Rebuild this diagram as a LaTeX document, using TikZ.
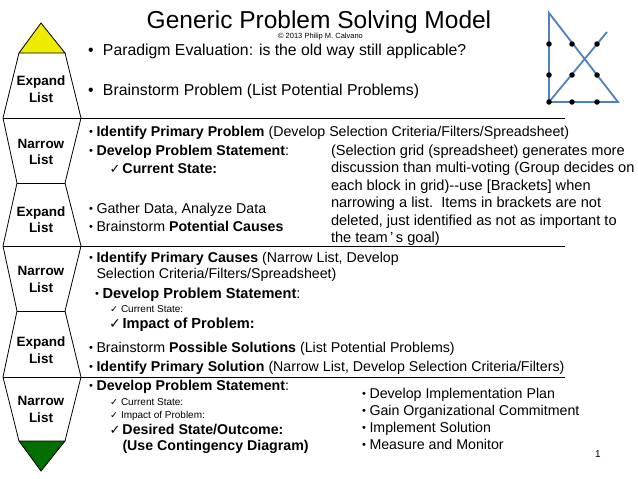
\documentclass[tikz,border=0pt]{standalone}
\usepackage{fontspec}
\setmainfont{Liberation Sans}
\newfontfamily\ckfont{DejaVu Sans}
\definecolor{ninecol}{RGB}{79,129,189}
\definecolor{topyel}{RGB}{238,234,0}
\definecolor{botgrn}{RGB}{0,110,0}
\newcommand\fsz[1]{\fontsize{#1}{#1}\selectfont}
\newcommand\bul{\makebox[7.5pt][l]{\raisebox{0.8pt}{\fsz{11}\textbullet}}}
\newcommand\bigbul{\makebox[15pt][l]{\textbullet}}
\newcommand\ckm[2]{\makebox[#1][l]{{\ckfont\fsz{#2}✓}}}
\begin{document}
\begin{tikzpicture}[x=1pt,y=-1pt,
  outl/.style={draw=black, line width=0.8pt, line join=miter},
  sepline/.style={draw=black, line width=1pt},
  nine/.style={draw=ninecol, line width=1.8pt},
  dot/.style={circle, fill=black, inner sep=0pt, minimum size=5.5pt},
  txt/.style={anchor=base west, inner sep=0pt, outer sep=0pt, font=\fsz{14.2}},
  notetxt/.style={txt, font=\fsz{14.6}},
  small/.style={txt, font=\fsz{10}},
  lbl/.style={anchor=base, inner sep=0pt, outer sep=0pt, font=\fsz{13.5}\bfseries}]
\useasboundingbox (0,0) rectangle (638,479);
\fill[white] (0,0) rectangle (638,479);

% ---- left column ----
\filldraw[outl, fill=topyel] (41,23) -- (65,53) -- (19,53) -- cycle;
\filldraw[outl, fill=botgrn] (19,441) -- (65,441) -- (41,471) -- cycle;
\draw[outl] (19,53) -- (3,118) -- (17,183) -- (3,246) -- (17,311) -- (3,377) -- (19,441);
\draw[outl] (65,53) -- (81,118) -- (65,183) -- (81,246) -- (65,311) -- (81,377) -- (65,441);
\draw[outl] (17,183) -- (65,183);
\draw[outl] (17,311) -- (65,311);
\draw[sepline] (3,118) -- (565,118);
\draw[sepline] (3,246) -- (565,246);
\draw[sepline] (3,377) -- (565,377);

\node[lbl] (l1a) at (41,85) {Expand};
\node[lbl] (l1b) at (41,102) {List};
\node[lbl] (l2a) at (41,148) {Narrow};
\node[lbl] (l2b) at (41,164) {List};
\node[lbl] (l3a) at (41,216) {Expand};
\node[lbl] (l3b) at (41,232) {List};
\node[lbl] (l4a) at (41,275) {Narrow};
\node[lbl] (l4b) at (41,292) {List};
\node[lbl] (l5a) at (41,346) {Expand};
\node[lbl] (l5b) at (41,363) {List};
\node[lbl] (l6a) at (41,405) {Narrow};
\node[lbl] (l6b) at (41,422) {List};

% ---- nine dots ----
\coordinate (na) at (549,13);
\coordinate (nb) at (549,102);
\coordinate (nc) at (618,102);
\coordinate (nd) at (607,32);
\draw[nine] (na) -- (nb) -- (nc) -- cycle;
\draw[nine] (nb) -- (nd);
\foreach \px/\pn in {549/1,572/2,597/3}
  \foreach \py/\pm in {44/a,75/b,102/c}
    \node[dot] (dot\pn\pm) at (\px,\py) {};

% ---- title ----
\node[anchor=base, inner sep=0pt, font=\fsz{24.5}] (title) at (319,28) {Generic Problem Solving Model};
\node[anchor=base, inner sep=0pt, font=\fsz{7.5}] (copy) at (320.5,38.5) {© 2013 Philip M. Calvano};

% ---- segment 1 ----
\node[txt, font=\fsz{15.8}] (par) at (88,56) {\bigbul Paradigm Evaluation: is the old way still applicable?};
\node[txt, font=\fsz{15.8}] (bsp) at (88,95) {\bigbul Brainstorm Problem (List Potential Problems)};

% ---- segments 2-3 ----
\node[txt] (ipp) at (89,136) {\bul\textbf{Identify Primary Problem} (Develop Selection Criteria/Filters/Spreadsheet)};
\node[txt] (dps1) at (89,155.5) {\bul\textbf{Develop Problem Statement}:};
\node[txt] (cs1) at (109.5,173.5) {\ckm{13pt}{13}\textbf{Current State:}};
\node[txt] (gd) at (89,213) {\bul Gather Data, Analyze Data};
\node[txt] (bpc) at (89,231) {\bul Brainstorm \textbf{Potential Causes}};

\node[notetxt] (n1) at (331,155) {(Selection grid (spreadsheet) generates more};
\node[notetxt] (n2) at (331,172.5) {discussion than multi-voting (Group decides on};
\node[notetxt] (n3) at (331,190) {each block in grid)-{}-use [Brackets] when};
\node[notetxt] (n4) at (331,207.5) {narrowing a list.\ \ Items in brackets are not};
\node[notetxt] (n5) at (331,225) {deleted, just identified as not as important to};
\node[notetxt] (n6) at (331,242.5) {the team\,’\,s goal)};

% ---- segments 4-5 ----
\node[txt] (ipc) at (89,262) {\bul\textbf{Identify Primary Causes} (Narrow List, Develop};
\node[txt] (ipc2) at (96.5,278) {Selection Criteria/Filters/Spreadsheet)};
\node[txt, font=\fsz{14.6}] (dps2) at (95,298) {\bul\textbf{Develop Problem Statement}:};
\node[small] (cs2) at (110,312) {\ckm{11pt}{9.5}Current State:};
\node[txt, font=\fsz{14.6}] (iop2) at (109,328) {\ckm{13.5pt}{14}\textbf{Impact of Problem:}};
\node[txt] (bps) at (89,352) {\bul Brainstorm \textbf{Possible Solutions} (List Potential Problems)};
\node[txt] (ips) at (89,371.5) {\bul\textbf{Identify Primary Solution} (Narrow List, Develop Selection Criteria/Filters)};

% ---- segment 6 ----
\node[txt] (dps3) at (89,390.5) {\bul\textbf{Develop Problem Statement}:};
\node[small] (cs3) at (110,405.5) {\ckm{11pt}{9.5}Current State:};
\node[small] (iop3) at (110,418) {\ckm{11pt}{9.5}Impact of Problem:};
\node[txt] (dso) at (109.5,434) {\ckm{13pt}{13}\textbf{Desired State/Outcome:}};
\node[txt] (ucd) at (122.5,450) {\textbf{(Use Contingency Diagram)}};

\node[txt] (r1) at (362,398.5) {\bul Develop Implementation Plan};
\node[txt] (r2) at (362,415.5) {\bul Gain Organizational Commitment};
\node[txt] (r3) at (362,432.5) {\bul Implement Solution};
\node[txt] (r4) at (362,449.5) {\bul Measure and Monitor};

\node[anchor=base, inner sep=0pt, font=\fsz{10}] (pg) at (598,457) {1};
\end{tikzpicture}
\end{document}
